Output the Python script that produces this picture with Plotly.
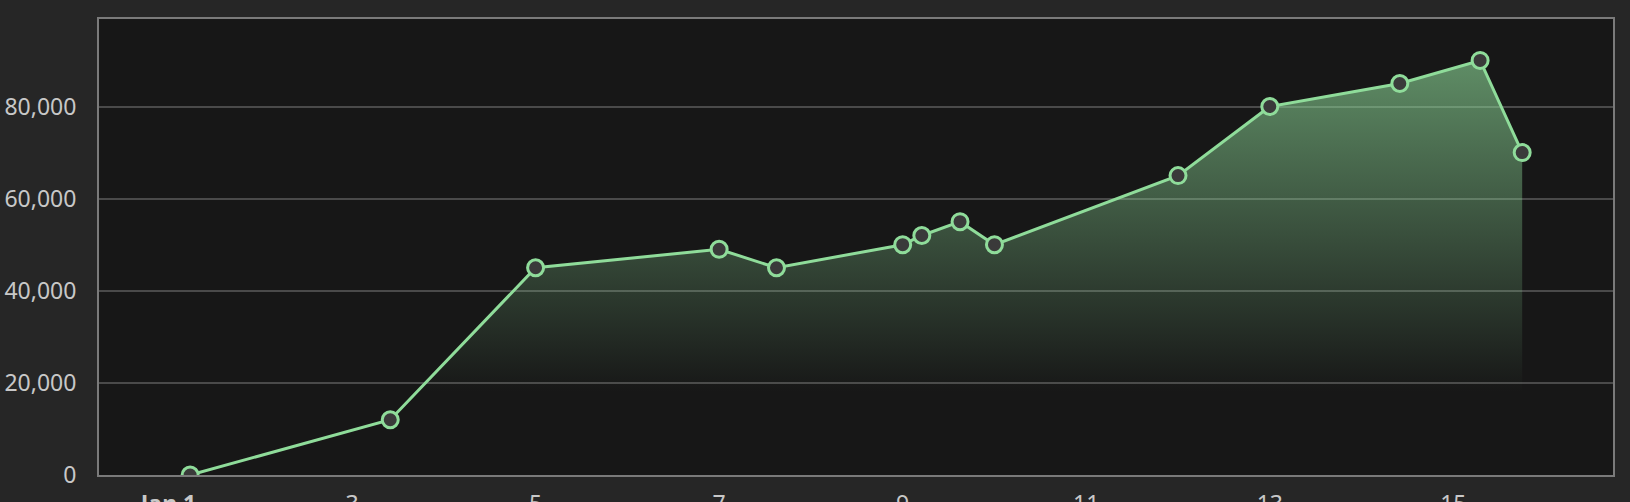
import plotly.graph_objects as go

# data points (timestamps)
dates = [
    "2024-01-01 05:40", "2024-01-03 10:00", "2024-01-05 00:00", "2024-01-07 00:00",
    "2024-01-07 15:00", "2024-01-09 00:00", "2024-01-09 05:00", "2024-01-09 15:00",
    "2024-01-10 00:00", "2024-01-12 00:00", "2024-01-13 00:00", "2024-01-14 10:00",
    "2024-01-15 07:00", "2024-01-15 18:00",
]
values = [0, 12000, 45000, 49000, 45000, 50000, 52000, 55000,
          50000, 65000, 80000, 85000, 90000, 70000]

tick_dates = ["2024-01-01", "2024-01-03", "2024-01-05", "2024-01-07",
              "2024-01-09", "2024-01-11", "2024-01-13", "2024-01-15"]
tick_labels = ["<b>Jan 1</b>", "3", "5", "7", "9", "11", "13", "15"]
y_ticks = [0, 20000, 40000, 60000, 80000]

green = "#8fdc9a"

fig = go.Figure()
fig.add_trace(go.Scatter(
    x=dates, y=values,
    mode="lines+markers",
    line=dict(color=green, width=3),
    marker=dict(size=16, color="#3a3a3a", line=dict(color=green, width=3)),
    fill="tozeroy",
    fillgradient=dict(
        type="vertical",
        colorscale=[[0, "rgba(143,220,154,0)"], [1, "rgba(143,220,154,0.6)"]],
        start=18000, stop=90000,
    ),
    showlegend=False,
))

fig.update_layout(
    width=1630, height=560,
    margin=dict(l=99, r=17, t=19, b=85),
    paper_bgcolor="#262626",
    plot_bgcolor="#171717",
    font=dict(family="Noto Sans", size=23, color="#c8c8c8"),
    xaxis=dict(
        type="date",
        range=["2023-12-31 05:50", "2024-01-16 17:45"],
        tickvals=tick_dates, ticktext=tick_labels,
        showgrid=False, zeroline=False,
        showline=True, linecolor="#7a7a7a", linewidth=2, mirror=True,
        ticks="", ticklabelstandoff=7, automargin=False,
    ),
    yaxis=dict(
        range=[0, 99000],
        tickvals=y_ticks, tickformat=",d",
        gridcolor="#4a4a4a", gridwidth=1.5, zeroline=False,
        showline=True, linecolor="#7a7a7a", linewidth=2, mirror=True,
        ticks="", ticklabelstandoff=16, automargin=False,
    ),
)

# drop the page margin so the figure sits flush at the top-left corner
fig.write_html("out.html", config={"displayModeBar": False},
               post_script="document.body.style.margin='0';"
                           "document.body.style.background='#262626';")
